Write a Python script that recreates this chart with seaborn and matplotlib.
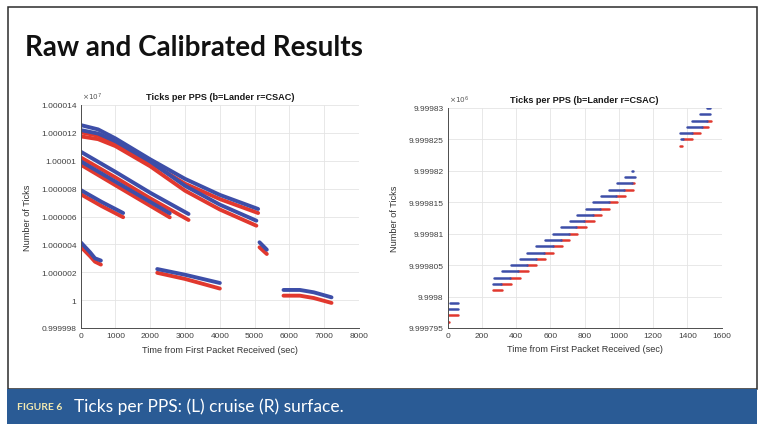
import numpy as np
import pandas as pd
import seaborn as sns
import matplotlib
matplotlib.use("Agg")
import matplotlib.pyplot as plt
from matplotlib.patches import Rectangle
from matplotlib.ticker import FixedLocator

# ---- left panel (cruise): time in s, ticks above 1e7 ----
pass_a_t = [0, 500, 1000, 2000, 3000, 4000, 5100]
pass_a_lander = [125.6, 122.5, 116.0, 101.0, 87.0, 75.5, 65.4]
pass_a_csac = [120.4, 118.0, 112.5, 98.5, 83.5, 72.5, 62.5]

pass_b_t = [0, 500, 1000, 2000, 3000, 4000, 5050]
pass_b_lander = [122.0, 119.5, 114.0, 99.5, 82.0, 68.5, 57.0]
pass_b_csac = [117.5, 115.5, 110.5, 96.0, 78.5, 65.0, 53.4]

pass_c_t = [0, 1000, 2000, 3100]
pass_c_lander = [106.5, 92.0, 77.0, 61.8]
pass_c_csac = [102.4, 88.0, 73.0, 57.5]

pass_d_t = [0, 1000, 2560]
pass_d_lander = [99.6, 85.0, 62.3]
pass_d_csac = [97.2, 82.4, 59.4]

pass_e_t = [0, 600, 1220]
pass_e_lander = [79.0, 70.5, 62.5]
pass_e_csac = [76.0, 67.5, 59.5]

pass_f_t = [0, 270, 410, 580]
pass_f_lander = [41.5, 34.3, 30.0, 28.4]
pass_f_csac = [38.4, 31.5, 27.6, 25.5]

pass_g_t = [2200, 3000, 4000]
pass_g_lander = [22.3, 18.2, 12.3]
pass_g_csac = [19.6, 15.2, 8.3]

pass_h_t = [5140, 5350]
pass_h_lander = [41.5, 36.2]
pass_h_csac = [37.9, 33.1]

pass_i_t = [5830, 6300, 6700, 7210]
pass_i_lander = [7.3, 7.3, 5.6, 2.0]
pass_i_csac = [3.2, 3.2, 1.5, -2.0]

# ---- right panel (surface): tick count levels and time spans (s) ----
lander_level = [9999798, 9999799, 9999802, 9999803, 9999804, 9999805, 9999806,
                9999807, 9999808, 9999809, 9999810, 9999811, 9999812, 9999813,
                9999814, 9999815, 9999816, 9999817, 9999818, 9999819, 9999820,
                9999825, 9999826, 9999827, 9999828, 9999829, 9999830]
lander_start = [0, 15, 265, 269, 316, 368, 420, 465, 515, 568, 615, 661, 712, 756,
                805, 847, 898, 940, 987, 1033, 1078, 1361, 1355, 1396, 1429, 1472, 1515]
lander_end = [62, 62, 310, 362, 413, 465, 515, 562, 615, 659, 706, 752, 797, 847,
              892, 940, 983, 1028, 1076, 1095, 1084, 1375, 1429, 1487, 1517, 1534, 1534]

csac_level = [9999796, 9999797, 9999801, 9999802, 9999803, 9999804, 9999805,
              9999806, 9999807, 9999808, 9999809, 9999810, 9999811, 9999812,
              9999813, 9999814, 9999815, 9999816, 9999817, 9999818, 9999824,
              9999825, 9999826, 9999827, 9999828]
csac_start = [0, 0, 265, 310, 362, 413, 465, 515, 562, 615, 659, 706, 752, 797,
              847, 892, 940, 983, 1028, 1076, 1355, 1375, 1429, 1487, 1517]
csac_end = [7, 62, 320, 372, 420, 467, 517, 566, 616, 665, 711, 756, 807, 853,
            898, 940, 989, 1037, 1082, 1090, 1371, 1429, 1472, 1522, 1538]

BLUE = "#3d4ea8"
RED = "#e1382e"
AX_COLOR = "#4d4d4d"


def matlab_label(v):
    s = f"{v:.6f}".rstrip("0").rstrip(".")
    return s


def cruise_frame():
    passes = {
        "a": (pass_a_t, pass_a_lander, pass_a_csac),
        "b": (pass_b_t, pass_b_lander, pass_b_csac),
        "c": (pass_c_t, pass_c_lander, pass_c_csac),
        "d": (pass_d_t, pass_d_lander, pass_d_csac),
        "e": (pass_e_t, pass_e_lander, pass_e_csac),
        "f": (pass_f_t, pass_f_lander, pass_f_csac),
        "g": (pass_g_t, pass_g_lander, pass_g_csac),
        "h": (pass_h_t, pass_h_lander, pass_h_csac),
        "i": (pass_i_t, pass_i_lander, pass_i_csac),
    }
    rows = []
    for name, (t, lan, csac) in passes.items():
        for ti, l, c in zip(t, lan, csac):
            rows.append((name, "CSAC", ti, 1.0 + c * 1e-7))
            rows.append((name, "Lander", ti, 1.0 + l * 1e-7))
    return pd.DataFrame(rows, columns=["seg", "clock", "t", "y"])


def surface_frame():
    rows = []
    for k, (lv, a, b) in enumerate(zip(csac_level, csac_start, csac_end)):
        rows.append((f"c{k}", "CSAC", a, lv / 1e6))
        rows.append((f"c{k}", "CSAC", b, lv / 1e6))
    for k, (lv, a, b) in enumerate(zip(lander_level, lander_start, lander_end)):
        rows.append((f"l{k}", "Lander", a, lv / 1e6))
        rows.append((f"l{k}", "Lander", b, lv / 1e6))
    return pd.DataFrame(rows, columns=["seg", "clock", "t", "y"])


def style_axes(ax, xticks, yticks, exp):
    ax.set_xlim(xticks[0], xticks[-1])
    ax.set_ylim(yticks[0], yticks[-1])
    ax.xaxis.set_major_locator(FixedLocator(xticks))
    ax.yaxis.set_major_locator(FixedLocator(yticks))
    ax.set_xticklabels([str(int(v)) for v in xticks])
    ax.set_yticklabels([matlab_label(v) for v in yticks])
    ax.grid(True, color="#e4e4e4", lw=0.6)
    ax.set_axisbelow(True)
    for side in ["top", "right"]:
        ax.spines[side].set_visible(False)
    for side in ["left", "bottom"]:
        ax.spines[side].set_color(AX_COLOR)
        ax.spines[side].set_linewidth(0.7)
    ax.tick_params(direction="in", length=2.5, width=0.6, color=AX_COLOR,
                   labelsize=6, labelcolor="#404040", pad=3)
    ax.set_title("Ticks per PPS (b=Lander r=CSAC)", fontsize=6.6,
                 fontweight="bold", color="#1a1a1a", pad=4)
    ax.set_xlabel("Time from First Packet Received (sec)", fontsize=6.6,
                  color="#333333")
    ax.set_ylabel("Number of Ticks", fontsize=6.6, color="#333333")
    ax.text(0.005, 1.012, r"$\times10^{%d}$" % exp, transform=ax.transAxes,
            fontsize=5.2, color="#555555", ha="left", va="bottom")


sns.set_theme(style="white")
plt.rcParams["font.family"] = ["Liberation Sans", "DejaVu Sans"]

fig = plt.figure(figsize=(7.68, 4.39), dpi=100)
W, H = 768.0, 439.0

# frame and caption bar
fig.patches.append(Rectangle((8 / W, 1 - 390 / H), 749 / W, 382 / H,
                             transform=fig.transFigure, fill=False,
                             edgecolor="#2b2b2b", lw=1.1, zorder=0))
fig.patches.append(Rectangle((7 / W, 1 - 425 / H), 750 / W, 35 / H,
                             transform=fig.transFigure, facecolor="#2a5b95",
                             edgecolor="none", zorder=1))

fig.text(25 / W, 1 - 48 / H, "Raw and Calibrated Results", fontsize=20,
         fontweight="bold", family=["Lato", "DejaVu Sans"], color="#111111",
         va="center")
fig.text(17 / W, 1 - 408 / H, "FIGURE 6", fontsize=7.5, fontweight="bold",
         family=["Lato", "DejaVu Sans"], color="#f3e9b0", va="center")
fig.text(74 / W, 1 - 407 / H, "Ticks per PPS: (L) cruise (R) surface.",
         fontsize=12.5, family=["Lato", "DejaVu Sans"], color="white",
         va="center")

palette = {"Lander": BLUE, "CSAC": RED}

# left: cruise
ax1 = fig.add_axes([80.7 / W, 1 - 329 / H, 278.3 / W, 223 / H])
sns.lineplot(data=cruise_frame(), x="t", y="y", hue="clock", units="seg",
             estimator=None, palette=palette, hue_order=["CSAC", "Lander"],
             lw=2.8, legend=False, ax=ax1, solid_capstyle="round")
style_axes(ax1, list(range(0, 8001, 1000)),
           [0.999998 + 0.000002 * k for k in range(9)], 7)
ax1.xaxis.set_label_coords(0.5, -0.075)
ax1.yaxis.set_label_coords(-0.175, 0.5)

# right: surface
ax2 = fig.add_axes([447.7 / W, 1 - 329 / H, 274 / W, 220 / H])
sns.lineplot(data=surface_frame(), x="t", y="y", hue="clock", units="seg",
             estimator=None, palette=palette, hue_order=["CSAC", "Lander"],
             lw=1.8, legend=False, ax=ax2, solid_capstyle="round")
style_axes(ax2, list(range(0, 1601, 200)),
           [9.999795 + 0.000005 * k for k in range(8)], 6)
ax2.xaxis.set_label_coords(0.5, -0.075)
ax2.yaxis.set_label_coords(-0.178, 0.5)

fig.savefig("out.png", dpi=100)
